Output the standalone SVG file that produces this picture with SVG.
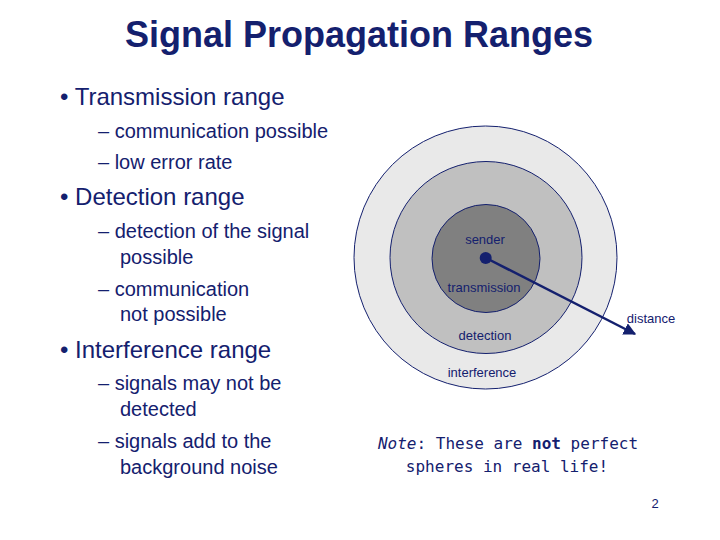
<svg xmlns="http://www.w3.org/2000/svg" width="720" height="540" viewBox="0 0 720 540">
<style>
text{font-family:"Liberation Sans",Arial,sans-serif;fill:#14206e}
.b1{font-size:24px}.b2{font-size:20px}.s{font-size:13px}
.ring{stroke:#14206e;stroke-width:1}
</style>
<defs><marker id="ah" viewBox="0 0 10 10" refX="9" refY="5" markerWidth="5" markerHeight="5" orient="auto"><path d="M0,0L10,5L0,10z" fill="#14206e"/></marker></defs>
<rect width="720" height="540" fill="#fff"/>
<text x="359" y="47" text-anchor="middle" style="font-size:36px;font-weight:bold">Signal Propagation Ranges</text>
<g id="bullets">
<text x="60" y="105" class="b1">• Transmission range</text>
<text x="98" y="138" class="b2">– communication possible</text>
<text x="98" y="169" class="b2">– low error rate</text>
<text x="60" y="205" class="b1">• Detection range</text>
<text x="98" y="238" class="b2">– detection of the signal</text>
<text x="120" y="264" class="b2">possible</text>
<text x="98" y="296" class="b2">– communication</text>
<text x="120" y="321" class="b2">not possible</text>
<text x="60" y="358" class="b1">• Interference range</text>
<text x="98" y="390" class="b2">– signals may not be</text>
<text x="120" y="416" class="b2">detected</text>
<text x="98" y="448" class="b2">– signals add to the</text>
<text x="120" y="474" class="b2">background noise</text>
</g>
<g id="interference"><circle cx="485.5" cy="257.5" r="131.5" fill="#e9e9e9" class="ring"/><text x="482" y="377" text-anchor="middle" class="s">interference</text></g>
<g id="detection"><circle cx="486" cy="257.5" r="96" fill="#c0c0c0" class="ring"/><text x="485" y="340" text-anchor="middle" class="s">detection</text></g>
<g id="transmission"><circle cx="486" cy="258.5" r="54" fill="#808080" class="ring"/><text x="484" y="292" text-anchor="middle" class="s">transmission</text></g>
<g id="sender"><text x="485" y="244" text-anchor="middle" class="s">sender</text><circle cx="485.7" cy="258" r="6" fill="#14206e"/></g>
<g id="connectors"><line x1="486" y1="258" x2="635" y2="334" stroke="#14206e" stroke-width="2.5" marker-end="url(#ah)"/></g>
<text x="651" y="323" text-anchor="middle" class="s">distance</text>
<text x="508" y="449" text-anchor="middle" style="font-family:'DejaVu Sans Mono','Liberation Mono',monospace;font-size:16px"><tspan font-style="italic">Note</tspan>: These are <tspan font-weight="bold">not</tspan> perfect</text>
<text x="507" y="472" text-anchor="middle" style="font-family:'DejaVu Sans Mono','Liberation Mono',monospace;font-size:16px">spheres in real life!</text>
<text x="655" y="508" text-anchor="middle" style="font-size:13px">2</text>
</svg>
